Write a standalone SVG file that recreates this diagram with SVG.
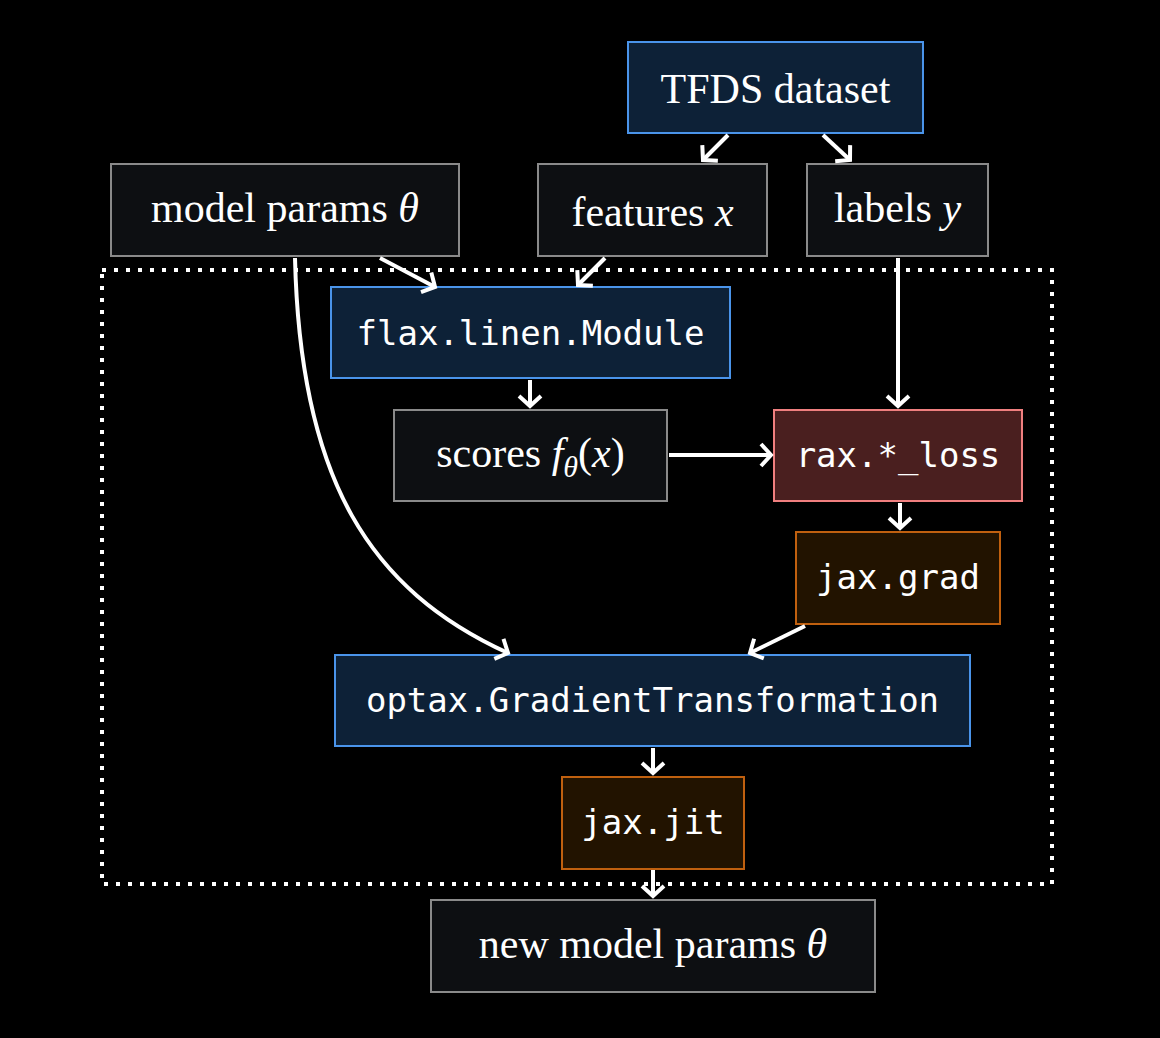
<svg xmlns="http://www.w3.org/2000/svg" width="1160" height="1038" viewBox="0 0 1160 1038">
<style>
.serif{font-family:"Liberation Serif","DejaVu Serif",serif;font-size:42px;fill:#fff}
.mono{font-family:"DejaVu Sans Mono","Liberation Mono",monospace;font-size:34px;fill:#fff}
.gray{fill:#0d0f12;stroke:#8a8a8a;stroke-width:2}
.blue{fill:#0d2137;stroke:#4a94ea;stroke-width:2}
.red{fill:#4a1f1f;stroke:#f07f7f;stroke-width:2}
.brown{fill:#221300;stroke:#c0600f;stroke-width:2}
.c{fill:none;stroke:#fff;stroke-width:4;marker-end:url(#a)}
</style>
<defs>
<marker id="a" markerUnits="userSpaceOnUse" markerWidth="30" markerHeight="30" refX="0" refY="0" viewBox="-15 -15 30 30" orient="auto">
<polyline points="-10,-11 0,0 -10,11" fill="none" stroke="#fff" stroke-width="4"/>
</marker>
</defs>
<rect width="1160" height="1038" fill="#000"/>
<rect x="102" y="270" width="950" height="614" fill="none" stroke="#fff" stroke-width="4" stroke-dasharray="4,8"/>
<g id="tfds"><rect class="blue" x="628" y="42" width="295" height="91"/><text class="serif" x="775.5" y="103" text-anchor="middle">TFDS dataset</text></g>
<g id="params"><rect class="gray" x="111" y="164" width="348" height="92"/><text class="serif" x="285" y="222" text-anchor="middle">model params <tspan font-style="italic">θ</tspan></text></g>
<g id="features"><rect class="gray" x="538" y="164" width="229" height="92"/><text class="serif" x="652.5" y="226" text-anchor="middle">features <tspan font-style="italic">x</tspan></text></g>
<g id="labels"><rect class="gray" x="807" y="164" width="181" height="92"/><text class="serif" x="897.5" y="222" text-anchor="middle">labels <tspan font-style="italic">y</tspan></text></g>
<g id="flax"><rect class="blue" x="331" y="287" width="399" height="91"/><text class="mono" x="530.5" y="345" text-anchor="middle">flax.linen.Module</text></g>
<g id="scores"><rect class="gray" x="394" y="410" width="273" height="91"/><text class="serif" x="530.5" y="467" text-anchor="middle">scores <tspan font-style="italic">f</tspan><tspan font-style="italic" font-size="30" dy="10">θ</tspan><tspan dy="-10">(</tspan><tspan font-style="italic">x</tspan>)</text></g>
<g id="rax"><rect class="red" x="774" y="410" width="248" height="91"/><text class="mono" x="898" y="467" text-anchor="middle">rax.*_loss</text></g>
<g id="grad"><rect class="brown" x="796" y="532" width="204" height="92"/><text class="mono" x="898" y="589" text-anchor="middle">jax.grad</text></g>
<g id="optax"><rect class="blue" x="335" y="655" width="635" height="91"/><text class="mono" x="652.5" y="712" text-anchor="middle">optax.GradientTransformation</text></g>
<g id="jit"><rect class="brown" x="562" y="777" width="182" height="92"/><text class="mono" x="653" y="834" text-anchor="middle">jax.jit</text></g>
<g id="newparams"><rect class="gray" x="431" y="900" width="444" height="92"/><text class="serif" x="653" y="958" text-anchor="middle">new model params <tspan font-style="italic">θ</tspan></text></g>
<g id="connectors">
<path class="c" d="M728,135 L703,160"/>
<path class="c" d="M823,135 L850,160"/>
<path class="c" d="M380,258 L435,287"/>
<path class="c" d="M605,258 L578,285"/>
<path class="c" d="M898,258 L898,406"/>
<path class="c" d="M295,258 C300,480 370,590 508,653"/>
<path class="c" d="M530,380 L530,406"/>
<path class="c" d="M669,455 L771,455"/>
<path class="c" d="M900,503 L900,528"/>
<path class="c" d="M805,626 L750,653"/>
<path class="c" d="M653,748 L653,773"/>
<path class="c" d="M653,870 L653,896"/>
</g>
</svg>
